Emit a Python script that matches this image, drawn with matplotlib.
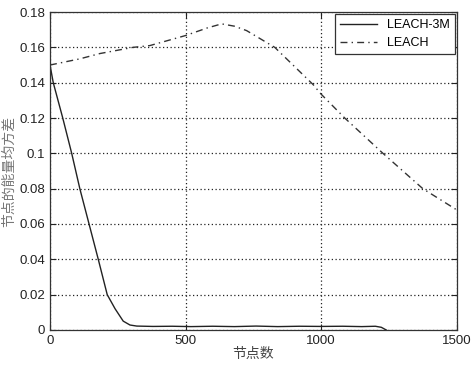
import matplotlib.pyplot as plt
from matplotlib.ticker import FormatStrFormatter

# values
leach3m_x = [0, 12, 47, 80, 110, 144, 178, 211, 240, 270, 295, 320, 380, 450, 520,
             600, 680, 760, 840, 920, 1000, 1080, 1150, 1200, 1222, 1240]
leach3m_y = [0.150, 0.140, 0.120, 0.100, 0.080, 0.060, 0.040, 0.020, 0.012, 0.005,
             0.0028, 0.0022, 0.0020, 0.0021, 0.0019, 0.0021, 0.0019, 0.0022, 0.0019,
             0.0021, 0.0020, 0.0021, 0.0019, 0.0021, 0.0015, 0.0]

leach_x = [0, 110, 184, 306, 368, 500, 580, 633, 680, 725, 829, 970, 1000, 1087,
           1228, 1375, 1500]
leach_y = [0.150, 0.1535, 0.1565, 0.160, 0.161, 0.1667, 0.171, 0.1733, 0.172,
           0.1695, 0.160, 0.139, 0.1335, 0.120, 0.100, 0.080, 0.068]

xticks = [0, 500, 1000, 1500]
yticks = [0, 0.02, 0.04, 0.06, 0.08, 0.1, 0.12, 0.14, 0.16, 0.18]

plt.rcParams['font.family'] = ['Liberation Sans', 'DejaVu Sans']

fig = plt.figure(figsize=(4.74, 3.65), dpi=100)
ax = fig.add_axes([0.1055, 0.096, 0.858, 0.871])

ax.plot(leach3m_x, leach3m_y, color="#222222", linewidth=1.0, linestyle="-", label="LEACH-3M")
ax.plot(leach_x, leach_y, color="#333333", linewidth=1.0, linestyle=(0, (5, 3, 1, 3)), label="LEACH")

ax.set_xlim(0, 1500)
ax.set_ylim(0, 0.18)
ax.set_xticks(xticks)
ax.set_yticks(yticks)
ax.yaxis.set_major_formatter(FormatStrFormatter('%g'))
ax.tick_params(direction="in", top=True, right=True, labelsize=9.5, colors="#222222", length=4)

ax.grid(True, color="#222222", linestyle=(0, (1, 2)), linewidth=0.9)

for s in ax.spines.values():
    s.set_color("#333333")
    s.set_linewidth(0.9)

ax.set_xlabel("节点数", family=["Noto Sans CJK SC", "DejaVu Sans"], fontsize=10, color="#444444", labelpad=0)
ax.set_ylabel("节点的能量均方差", family=["Noto Sans CJK SC", "DejaVu Sans"], fontsize=10, color="#777777", labelpad=2)

leg = ax.legend(loc="upper right", fontsize=9, fancybox=False, framealpha=1,
                edgecolor="#333333", borderpad=0.4, handlelength=3.0, borderaxespad=0.15)
leg.get_frame().set_linewidth(0.9)

fig.savefig("out.png", dpi=100)
